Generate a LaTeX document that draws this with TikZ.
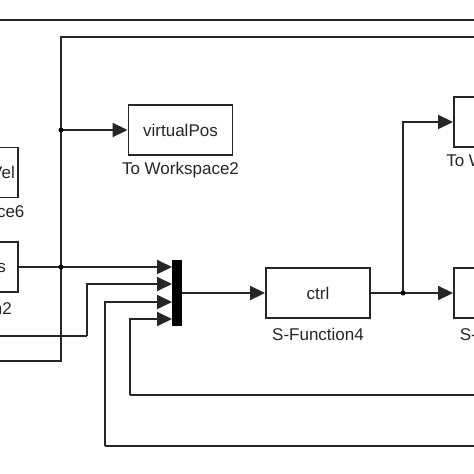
\documentclass[tikz,border=0pt]{standalone}
\usepackage{fontspec}
\setmainfont{Liberation Sans}
\usetikzlibrary{arrows.meta,calc}
\begin{document}
\begin{tikzpicture}[x=1pt,y=-1pt,
  wire/.style={draw=black!85,line width=1.9pt},
  arr/.style={wire,-{Triangle[length=15pt,width=14pt]}},
  blk/.style={draw=black!85,line width=1.9pt,fill=white,minimum width=104pt,minimum height=50pt,inner sep=0pt,font=\fontsize{17}{20}\selectfont,text=black!85},
  lbl/.style={font=\fontsize{17}{20}\selectfont,text=black!85,inner sep=0pt},
  dot/.style={circle,fill=black,inner sep=0pt,minimum size=5pt}]
\useasboundingbox (0,0) rectangle (474,474);
\clip (0,0) rectangle (474,474);
\fill[white] (0,0) rectangle (474,474);
% blocks
\node[blk] (vpos) at (180.5,130) {virtualPos};
\node[lbl] (vposl) at (180.5,170) {To Workspace2};
\node[blk] (ctrl) at (318,293) {ctrl};
\node[lbl] (ctrll) at (318,334) {S-Function4};
\node[blk] (rb1) at (506,122) {};
\node[lbl] (rb1l) at (500,162) {To Workspace};
\node[blk] (rb2) at (506,293) {};
\node[lbl] (rb2l) at (501,334) {S-Function};
\node[blk] (lb1) at (-34,172.5) {};
\node[lbl,anchor=east] (lb1t) at (15,172.5) {Vel};
\node[lbl] (lb1l) at (-34,213) {To Workspace6};
\node[blk] (lb2) at (-34,267) {};
\node[lbl,anchor=east] (lb2t) at (6,267) {Pos};
\node[lbl] (lb2l) at (-34,308) {S-Function2};
\node[fill=black,minimum width=10pt,minimum height=66pt,inner sep=0pt] (mux) at (177,293) {};
% mux ports
\coordinate (m1) at (172,267);
\coordinate (m2) at (172,284);
\coordinate (m3) at (172,302);
\coordinate (m4) at (172,319);
% junctions and corners
\coordinate (j1) at (61,267);
\coordinate (j0) at (61,130);
\coordinate (j2) at (403,293);
\coordinate (t1) at (0,20);
\coordinate (t2) at (474,20);
\coordinate (c1) at (0,361);
\coordinate (c2) at (61,37);
\coordinate (c3) at (474,37);
\coordinate (p2) at (0,336);
\coordinate (p2b) at (87,336);
\coordinate (p3) at (474,446);
\coordinate (p3b) at (105,446);
\coordinate (p4) at (474,395);
\coordinate (p4b) at (130,395);
% wires
\draw[wire] (t1) -- (t2);
\draw[wire] (c1) -| (c2) -- (c3);
\draw[arr] (j0) -- (vpos.west);
\draw[wire] (lb2.east) -- (j1);
\draw[arr] (j1) -- (m1);
\draw[wire] (p2) -- (p2b);
\draw[arr] (p2b) |- (m2);
\draw[wire] (p3) -- (p3b);
\draw[arr] (p3b) |- (m3);
\draw[wire] (p4) -- (p4b);
\draw[arr] (p4b) |- (m4);
\draw[arr] (mux.east) -- (ctrl.west);
\draw[wire] (ctrl.east) -- (j2);
\draw[arr] (j2) -- (rb2.west);
\draw[arr] (j2) |- (rb1.west);
\node[dot] at (j0) {};
\node[dot] at (j1) {};
\node[dot] at (j2) {};
\end{tikzpicture}
\end{document}
